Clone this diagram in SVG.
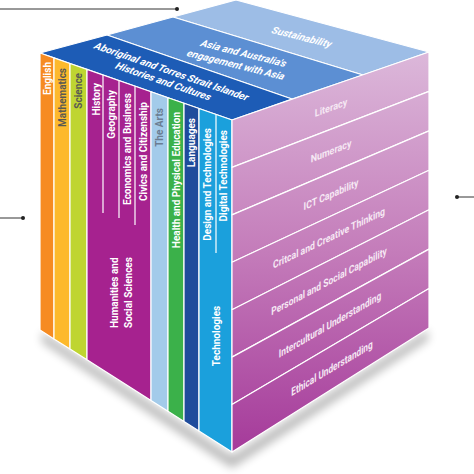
<svg xmlns="http://www.w3.org/2000/svg" width="474" height="474" viewBox="0 0 474 474">
<defs>
<linearGradient id="rg" gradientUnits="userSpaceOnUse" x1="0" y1="52" x2="0" y2="452">
<stop offset="0" stop-color="#dcb8da"/>
<stop offset="0.5" stop-color="#c47cba"/>
<stop offset="1" stop-color="#a53a9a"/>
</linearGradient>
<filter id="blur" x="-20%" y="-50%" width="140%" height="200%"><feGaussianBlur stdDeviation="5"/></filter>
<style>
.t{font-family:Roboto,"Liberation Sans",sans-serif;font-weight:700;font-size:10px;fill:#fff}
.g{fill:#5a5a52}
.a{fill:#6b7d92}
.r{fill:#f6e8f4;font-size:9.6px}
.s{stroke:#fff;stroke-width:1.2;stroke-linejoin:round}
.lead{stroke:#333;stroke-width:1;fill:none}
</style>
</defs>
<rect width="474" height="474" fill="#fff"/>
<polygon points="42,332 232,456 428,330 428,340 232,468 42,342" fill="#000" opacity="0.28" filter="url(#blur)"/>

<g id="connectors">
<line class="lead" x1="0" y1="9" x2="177" y2="9"/><circle cx="177" cy="9" r="2" fill="#222"/>
<line class="lead" x1="0" y1="218" x2="23" y2="218"/><circle cx="23" cy="218" r="2" fill="#222"/>
<line class="lead" x1="457" y1="197" x2="474" y2="197"/><circle cx="457" cy="197" r="2" fill="#222"/>
</g>

<g id="top-sustainability"><polygon class="s" points="173,17 236,0 429,52 363,75" fill="#9dbde6"/>
<text class="t" transform="translate(302,37) rotate(14) skewX(-20)" text-anchor="middle" dy="0.35em">Sustainability</text></g>
<g id="top-asia"><polygon class="s" points="107,35 173,17 363,75 292,99" fill="#5c8fd3"/>
<g transform="translate(240,59) rotate(14) skewX(-20)"><text class="t" text-anchor="middle" y="-3">Asia and Australia's</text><text class="t" text-anchor="middle" y="10">engagement with Asia</text></g></g>
<g id="top-aboriginal"><polygon class="s" points="40,53 107,35 292,99 232,120" fill="#1d5cb6"/>
<g transform="translate(168,76) rotate(19) skewX(-20)"><text class="t" text-anchor="middle" y="-2">Aboriginal and Torres Strait Islander</text><text class="t" text-anchor="middle" y="10">Histories and Cultures</text></g></g>

<g id="english"><polygon class="s" points="40,53 54,57.9 54,338.9 40,330" fill="#f68b22"/>
<text class="t" transform="translate(47,62) rotate(-90)" text-anchor="end" dy="0.35em">English</text></g>
<g id="mathematics"><polygon class="s" points="54,57.9 70,63.5 70,349.1 54,338.9" fill="#fdb92c"/>
<text class="t g" transform="translate(62,68) rotate(-90)" text-anchor="end" dy="0.35em">Mathematics</text></g>
<g id="science"><polygon class="s" points="70,63.5 87,69.4 87,359.8 70,349.1" fill="#bfd531"/>
<text class="t g" transform="translate(78.5,73) rotate(-90)" text-anchor="end" dy="0.35em">Science</text></g>
<g id="hass"><polygon class="s" points="87,69.4 151,91.7 151,400.5 87,359.8" fill="#a6228f"/>
<line class="s" x1="103" y1="75" x2="103" y2="213"/>
<line class="s" x1="119" y1="80.6" x2="119" y2="218"/>
<line class="s" x1="135" y1="86.2" x2="135" y2="225"/>
<text class="t" transform="translate(96,83) rotate(-90)" text-anchor="end" dy="0.35em">History</text>
<text class="t" transform="translate(111.5,90) rotate(-90)" text-anchor="end" dy="0.35em">Geography</text>
<text class="t" transform="translate(127.5,93) rotate(-90)" text-anchor="end" dy="0.35em">Economics and Business</text>
<text class="t" transform="translate(143,102) rotate(-90)" text-anchor="end" dy="0.35em">Civics and Citizenship</text>
<text class="t" transform="translate(114,328) rotate(-90)" dy="0.35em">Humanities and</text>
<text class="t" transform="translate(128,328) rotate(-90)" dy="0.35em">Social Sciences</text></g>
<g id="the-arts"><polygon class="s" points="151,91.7 168,97.7 168,411.3 151,400.5" fill="#a3cbea"/>
<text class="t a" transform="translate(159.5,108) rotate(-90)" text-anchor="end" dy="0.35em">The Arts</text></g>
<g id="hpe"><polygon class="s" points="168,97.7 184,103.3 184,421.4 168,411.3" fill="#3bb14a"/>
<text class="t" transform="translate(176,112) rotate(-90)" text-anchor="end" dy="0.35em">Health and Physical Education</text></g>
<g id="languages"><polygon class="s" points="184,103.3 199,108.5 199,431 184,421.4" fill="#1f4c9c"/>
<text class="t" transform="translate(191.5,118) rotate(-90)" text-anchor="end" dy="0.35em">Languages</text></g>
<g id="technologies"><polygon class="s" points="199,108.5 232,120 232,452 199,431" fill="#1ba0dc"/>
<line class="s" x1="216" y1="114.4" x2="216" y2="253"/>
<text class="t" transform="translate(207.5,128) rotate(-90)" text-anchor="end" dy="0.35em">Design and Technologies</text>
<text class="t" transform="translate(223.5,130) rotate(-90)" text-anchor="end" dy="0.35em">Digital Technologies</text>
<text class="t" transform="translate(216,336) rotate(-90)" text-anchor="middle" dy="0.35em">Technologies</text></g>

<g id="literacy"><polygon class="s" points="232,120 429,52 429,91.4 232,167.4" fill="url(#rg)"/>
<text class="t r" transform="translate(331,107.5) rotate(-20) skewX(-20)" text-anchor="middle" dy="0.35em">Literacy</text></g>
<g id="numeracy"><polygon class="s" points="232,167.4 429,91.4 429,130.9 232,214.9" fill="url(#rg)"/>
<text class="t r" transform="translate(331,151) rotate(-22) skewX(-22)" text-anchor="middle" dy="0.35em">Numeracy</text></g>
<g id="ict"><polygon class="s" points="232,214.9 429,130.9 429,170.3 232,262.3" fill="url(#rg)"/>
<text class="t r" transform="translate(331,194.4) rotate(-24) skewX(-24)" text-anchor="middle" dy="0.35em">ICT Capability</text></g>
<g id="critical"><polygon class="s" points="232,262.3 429,170.3 429,209.7 232,309.7" fill="url(#rg)"/>
<text class="t r" transform="translate(329,237.8) rotate(-26) skewX(-26)" text-anchor="middle" dy="0.35em">Critcal and Creative Thinking</text></g>
<g id="personal"><polygon class="s" points="232,309.7 429,209.7 429,249.1 232,357.1" fill="url(#rg)"/>
<text class="t r" transform="translate(329,281.1) rotate(-28) skewX(-28)" text-anchor="middle" dy="0.35em">Personal and Social Capability</text></g>
<g id="intercultural"><polygon class="s" points="232,357.1 429,249.1 429,288.6 232,404.6" fill="url(#rg)"/>
<text class="t r" transform="translate(330,324.5) rotate(-30) skewX(-30)" text-anchor="middle" dy="0.35em">Intercultural Understanding</text></g>
<g id="ethical"><polygon class="s" points="232,404.6 429,288.6 429,328 232,452" fill="url(#rg)"/>
<text class="t r" transform="translate(332,368) rotate(-31) skewX(-31)" text-anchor="middle" dy="0.35em">Ethical Understanding</text></g>
</svg>
